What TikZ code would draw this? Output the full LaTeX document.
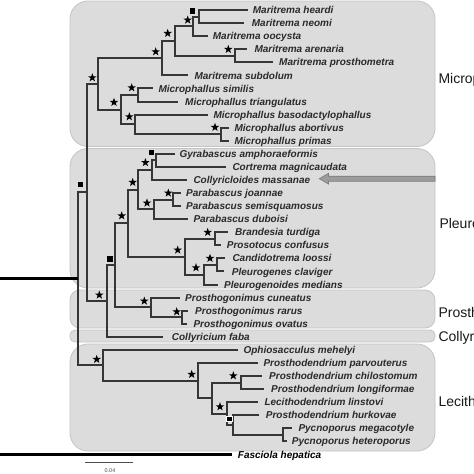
\documentclass[tikz,border=0pt]{standalone}
\usepackage{fontspec}
\setmainfont{Liberation Sans}
\usetikzlibrary{shapes.geometric}
\definecolor{treeg}{HTML}{363636}
\definecolor{labg}{HTML}{2A2A2A}
\definecolor{boxfill}{HTML}{DCDCDC}
\definecolor{boxedge}{HTML}{C4C4C4}
\definecolor{arrfill}{HTML}{9C9C9C}
\definecolor{arredge}{HTML}{7A7A7A}
\newcommand\leafat[5]{\coordinate (#1) at (#3,#2);\node[lab] (#1-l) at (#4,#2) {#5};}
\begin{document}
\begin{tikzpicture}[x=1pt,y=-1pt,
  br/.style={draw=treeg, line width=2pt},
  rootbr/.style={draw=black, line width=2.8pt},
  lab/.style={anchor=base west, inner sep=0pt, yshift=-3.6pt, font=\fontsize{10}{12}\selectfont\bfseries\itshape, text=labg},
  clade/.style={anchor=base west, inner sep=0pt, yshift=-5pt, font=\fontsize{14}{16}\selectfont, text=black!90},
  cladebox/.style={fill=boxfill, draw=boxedge, line width=0.8pt},
  st/.style={star, star points=5, star point ratio=2.5, fill=black, inner sep=0pt, minimum size=9pt},
  sq/.style={rectangle, fill=black, inner sep=0pt, minimum size=5.2pt}
]
\useasboundingbox (0,0) rectangle (474,474);
\clip (0,0) rectangle (474,474);
% clade boxes
\draw[cladebox, rounded corners=18pt] (70,1) rectangle (435,146.5);
\draw[cladebox, rounded corners=18pt] (70,148.5) rectangle (435,288);
\draw[cladebox, rounded corners=10pt] (70,290) rectangle (435,328);
\draw[cladebox, rounded corners=5pt] (70,330) rectangle (435,342);
\draw[cladebox, rounded corners=18pt] (70,344) rectangle (435,451);
% clade labels
\node[clade] (c1) at (438.3,78.3) {Microphallidae};
\node[clade] (c2) at (439.3,223.3) {Pleurogenidae};
\node[clade] (c3) at (438.3,312.7) {Prosthogonimidae};
\node[clade] (c4) at (438.3,336.7) {Collyriclidae};
\node[clade] (c5) at (438.3,401.7) {Lecithodendriidae};
% leaves
\leafat{L0}{10.0}{248}{252.7}{Maritrema heardi}
\leafat{L1}{23.1}{244}{251.7}{Maritrema neomi}
\leafat{L2}{36.1}{208}{212.7}{Maritrema oocysta}
\leafat{L3}{49.2}{247}{254.3}{Maritrema arenaria}
\leafat{L4}{62.3}{273.3}{279}{Maritrema prosthometra}
\leafat{L5}{75.4}{187.7}{194.3}{Maritrema subdolum}
\leafat{L6}{88.4}{153}{158.3}{Microphallus similis}
\leafat{L7}{101.5}{178}{185}{Microphallus triangulatus}
\leafat{L8}{114.6}{208.3}{213.3}{Microphallus basodactylophallus}
\leafat{L9}{127.6}{229.3}{234.3}{Microphallus abortivus}
\leafat{L10}{140.7}{229.3}{234.3}{Microphallus primas}
\leafat{L11}{153.8}{175}{179.3}{Gyrabascus amphoraeformis}
\leafat{L12}{166.8}{225.7}{232.3}{Cortrema magnicaudata}
\leafat{L13}{179.9}{186.7}{193.3}{Collyricloides massanae}
\leafat{L14}{193.0}{180.7}{186}{Parabascus joannae}
\leafat{L15}{206.1}{180.7}{186}{Parabascus semisquamosus}
\leafat{L16}{219.1}{188.3}{193.3}{Parabascus duboisi}
\leafat{L17}{232.2}{228.3}{235}{Brandesia turdiga}
\leafat{L18}{245.3}{221}{226.7}{Prosotocus confusus}
\leafat{L19}{258.3}{225}{232.3}{Candidotrema loossi}
\leafat{L20}{271.4}{224}{231.7}{Pleurogenes claviger}
\leafat{L21}{284.5}{218.3}{224}{Pleurogenoides medians}
\leafat{L22}{297.5}{180}{185}{Prosthogonimus cuneatus}
\leafat{L23}{310.6}{188.3}{195}{Prosthogonimus rarus}
\leafat{L24}{323.7}{187}{193.3}{Prosthogonimus ovatus}
\leafat{L25}{336.8}{163.3}{171.7}{Collyricium faba}
\leafat{L26}{349.8}{238.3}{243.3}{Ophiosacculus mehelyi}
\leafat{L27}{362.9}{258.3}{263.3}{Prosthodendrium parvouterus}
\leafat{L28}{376.0}{262}{269}{Prosthodendrium chilostomum}
\leafat{L29}{389.0}{264}{271}{Prosthodendrium longiformae}
\leafat{L30}{402.1}{258}{264.3}{Lecithodendrium linstovi}
\leafat{L31}{415.2}{259.3}{265.7}{Prosthodendrium hurkovae}
\leafat{L32}{428.2}{292}{298.3}{Pycnoporus megacotyle}
\leafat{L33}{441.3}{287}{291.7}{Pycnoporus heteroporus}
\coordinate (L34) at (231.7,454.4);
\node[lab, text=black] (L34-l) at (237.7,454.4) {Fasciola hepatica};
% internal nodes
\coordinate (nM1) at (199.3,16.5);
\coordinate (nM2) at (193.3,26);
\coordinate (nM4) at (235,55.7);
\coordinate (nM3) at (175,40.9);
\coordinate (nM5) at (162.3,58.1);
\coordinate (nMi1) at (137.7,95);
\coordinate (nMi2) at (221,134.2);
\coordinate (nMi3) at (135,124.4);
\coordinate (nMi4) at (120.7,109.7);
\coordinate (nMic) at (97.7,83.8);
\coordinate (nG1) at (155.5,160.3);
\coordinate (nG2) at (151.7,170.1);
\coordinate (nPa1) at (173.3,199.5);
\coordinate (nPa2) at (154,209.3);
\coordinate (nQ) at (138.3,189.7);
\coordinate (nB) at (215,238.7);
\coordinate (nC1) at (217.3,264.9);
\coordinate (nC2) at (204,274.7);
\coordinate (nS) at (184.7,256.7);
\coordinate (nP) at (128.3,223.2);
\coordinate (nPr1) at (181.7,317.1);
\coordinate (nPr2) at (150.7,307.3);
\coordinate (nPP) at (115.3,265.2);
\coordinate (nY) at (106.7,301);
\coordinate (nX) at (86.7,192.4);
\coordinate (nL1) at (240.7,382.5);
\coordinate (nPy) at (283,434.8);
\coordinate (nL2) at (233.3,425);
\coordinate (nL3) at (226.7,413.6);
\coordinate (nL4) at (212.3,398);
\coordinate (nL5) at (198.3,380.5);
\coordinate (nL6) at (103.3,365.2);
\coordinate (nIn) at (77.7,278.8);
\coordinate (nRoot) at (-3,366.6);
% branches
\draw[br] (nM1) |- (L0); \draw[br] (nM1) |- (L1);
\draw[br] (nM2) |- (nM1); \draw[br] (nM2) |- (L2);
\draw[br] (nM4) |- (L3); \draw[br] (nM4) |- (L4);
\draw[br] (nM3) |- (nM2); \draw[br] (nM3) |- (nM4);
\draw[br] (nM5) |- (nM3); \draw[br] (nM5) |- (L5);
\draw[br] (nMi1) |- (L6); \draw[br] (nMi1) |- (L7);
\draw[br] (nMi2) |- (L9); \draw[br] (nMi2) |- (L10);
\draw[br] (nMi3) |- (L8); \draw[br] (nMi3) |- (nMi2);
\draw[br] (nMi4) |- (nMi1); \draw[br] (nMi4) |- (nMi3);
\draw[br] (nMic) |- (nM5); \draw[br] (nMic) |- (nMi4);
\draw[br] (nG1) |- (L11); \draw[br] (nG1) |- (L12);
\draw[br] (nG2) |- (nG1); \draw[br] (nG2) |- (L13);
\draw[br] (nPa1) |- (L14); \draw[br] (nPa1) |- (L15);
\draw[br] (nPa2) |- (nPa1); \draw[br] (nPa2) |- (L16);
\draw[br] (nQ) |- (nG2); \draw[br] (nQ) |- (nPa2);
\draw[br] (nB) |- (L17); \draw[br] (nB) |- (L18);
\draw[br] (nC1) |- (L19); \draw[br] (nC1) |- (L20);
\draw[br] (nC2) |- (nC1); \draw[br] (nC2) |- (L21);
\draw[br] (nS) |- (nB); \draw[br] (nS) |- (nC2);
\draw[br] (nP) |- (nQ); \draw[br] (nP) |- (nS);
\draw[br] (nPr1) |- (L23); \draw[br] (nPr1) |- (L24);
\draw[br] (nPr2) |- (L22); \draw[br] (nPr2) |- (nPr1);
\draw[br] (nPP) |- (nP); \draw[br] (nPP) |- (nPr2);
\draw[br] (nY) |- (nPP); \draw[br] (nY) |- (L25);
\draw[br] (nX) |- (nMic); \draw[br] (nX) |- (nY);
\draw[br] (nL1) |- (L28); \draw[br] (nL1) |- (L29);
\draw[br] (nPy) |- (L32); \draw[br] (nPy) |- (L33);
\draw[br] (nL2) |- (L31); \draw[br] (nL2) |- (nPy);
\draw[br] (nL3) |- (L30); \draw[br] (nL3) |- (nL2);
\draw[br] (nL4) |- (nL1); \draw[br] (nL4) |- (nL3);
\draw[br] (nL5) |- (L27); \draw[br] (nL5) |- (nL4);
\draw[br] (nL6) |- (L26); \draw[br] (nL6) |- (nL5);
\draw[br] (nIn) |- (nX); \draw[br] (nIn) |- (nL6);
\draw[rootbr] (nRoot) |- (nIn); \draw[rootbr] (nRoot) |- (L34);
% support markers
\node[sq] (q1) at (192.5,11) {};
\node[st] (s1) at (187.7,20) {};
\node[st] (s2) at (167.7,33.3) {};
\node[st] (s3) at (155.7,51.7) {};
\node[st] (s4) at (228.3,49.3) {};
\node[st] (s5) at (92.3,77.7) {};
\node[st] (s6) at (114,102.3) {};
\node[st] (s7) at (131.7,87.7) {};
\node[st] (s8) at (129.3,116.7) {};
\node[st] (s9) at (215,127.3) {};
\node[sq] (q2) at (80.3,184.3) {};
\node[sq] (q3) at (151.7,152.8) {};
\node[st] (s10) at (145.4,162.5) {};
\node[st] (s11) at (132.7,182.3) {};
\node[st] (s12) at (147,203) {};
\node[st] (s13) at (168.3,193) {};
\node[st] (s14) at (121.7,215.8) {};
\node[st] (s15) at (207.7,232.3) {};
\node[st] (s16) at (177.7,250) {};
\node[st] (s17) at (196,267.7) {};
\node[st] (s18) at (210,258.3) {};
\node[sq] (q4) at (110,259) {};
\node[st] (s19) at (99.3,295) {};
\node[st] (s20) at (144.3,301) {};
\node[st] (s21) at (176.7,311.7) {};
\node[st] (s22) at (96.7,359.3) {};
\node[st] (s23) at (191.7,374.3) {};
\node[st] (s24) at (233.3,375.7) {};
\node[st] (s25) at (220,406.7) {};
\node[sq, draw=white, line width=0.6pt] (q5) at (229.3,419) {};
% arrow pointing at Collyricloides massanae
\draw[fill=arrfill, draw=arredge, line width=0.6pt] (319.3,178.7) -- (328.5,173.3) -- (328.5,176.2) -- (435,176.2) -- (435,181.2) -- (328.5,181.2) -- (328.5,184.1) -- cycle;
% scale bar
\coordinate (sb1) at (85,462.3);
\coordinate (sb2) at (133.3,462.3);
\draw[draw=black!70, line width=0.8pt] (sb1) -- (sb2);
\node[inner sep=0pt, font=\fontsize{5.5}{6}\selectfont, text=black!70] (sbl) at (110,470.5) {0.04};
\end{tikzpicture}
\end{document}
